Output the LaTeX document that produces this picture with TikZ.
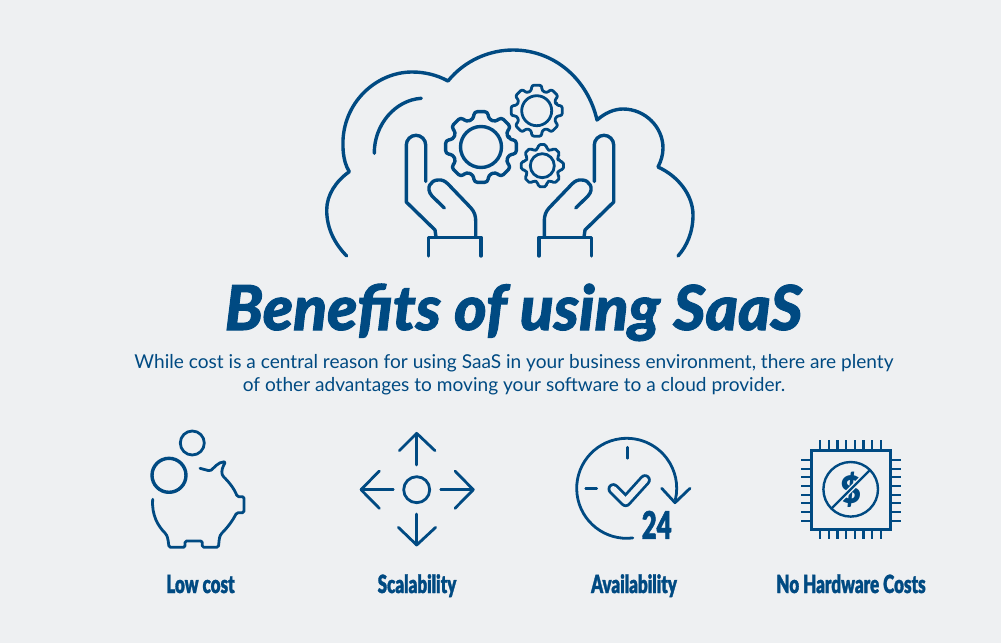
\documentclass[tikz,border=0pt]{standalone}
\usepackage{fontspec}
\setmainfont{Lato}
\newfontfamily\titlefont[FakeBold=1.6]{Lato Black Italic}
\newfontfamily\labelfont[FakeStretch=0.68,FakeBold=1.2]{Lato Black}
\newfontfamily\dollarfont[FakeStretch=0.95]{Lato Black}
\definecolor{saasblue}{HTML}{004A82}
\definecolor{saasbg}{HTML}{EEF0F2}
\tikzset{
  iconline/.style={draw=saasblue,line width=3.4pt,line cap=round,line join=round},
  thinline/.style={draw=saasblue,line width=2.8pt,line cap=round,line join=round},
  iconlabel/.style={text=saasblue,inner sep=0pt,anchor=base,font=\labelfont\fontsize{25}{27}\selectfont},
}
% one gear: x, y, inner radius, root radius, tip radius
\newcommand{\gearshape}[6][iconline]{
\begin{scope}[shift={(#2,#3)}]
\draw[#1] (#4,0) arc (0:360:#4);
\draw[#1,rounded corners=#6*0.09pt] (-15:#5)
  \foreach \a in {0,45,...,315} { -- (\a-15:#5) -- (\a-11:#6) -- (\a+11:#6) -- (\a+15:#5) } -- cycle;
\end{scope}
}
% left hand, the right one is its mirror image
\newcommand{\handshape}{
\draw[iconline] (425.7,181.5) -- (425.7,145) arc (0:-180:9.7) -- (406.3,202) -- (435,230) -- (436,237);
\draw[iconline] (444.3,208) -- (432,196) .. controls (425,188) and (431,180) .. (438,180) .. controls (442,179.5) and (445,181) .. (448,184)
  -- (471,208) .. controls (474.5,212) and (475.7,216) .. (475.7,221) -- (475.7,237);
\draw[iconline] (428.3,256) -- (428.3,237.3) -- (481,237.3) -- (481,256);
}

\begin{document}
\begin{tikzpicture}[x=1pt,y=1pt,yscale=-1]
\useasboundingbox (0,0) rectangle (1001,643);
\fill[saasbg] (0,0) rectangle (1001,643);

% cloud
\draw[iconline] (346.7,256) .. controls (336,245) and (326.7,230) .. (326.7,210)
  .. controls (326.7,195) and (336,181) .. (349.3,171.7)
  .. controls (342,160) and (343,145) .. (343,140)
  .. controls (345,100) and (378,72) .. (412,72)
  .. controls (425,72) and (437,75) .. (448,81)
  .. controls (465,60) and (490,50) .. (513,50)
  .. controls (555,50) and (588,80) .. (597,120)
  .. controls (605,113) and (614,109) .. (623,109)
  .. controls (645,109) and (663,127) .. (663,148)
  .. controls (663,155) and (661,161) .. (658,167)
  .. controls (678,176) and (693,195) .. (693,215)
  .. controls (693,232) and (687,246) .. (678,256);
\draw[iconline] (421.3,98.3) .. controls (395,100) and (374,125) .. (374.3,153.3);

% gears
\gearshape{481}{147}{20.5}{29}{36}
\gearshape[thinline]{536.7}{110.7}{15}{20.5}{26}
\gearshape[thinline]{542.3}{165.7}{12}{17}{21.5}

% hands
\handshape
\begin{scope}[xshift=1020pt,xscale=-1]
\handshape
\end{scope}

% texts
\node[text=saasblue,inner sep=0pt,anchor=base,font=\titlefont\fontsize{62}{70}\selectfont] (title) at (513.5,330) {Benefits of using SaaS};
\node[text=saasblue,inner sep=0pt,font=\fontsize{19.1}{23}\selectfont,align=center] (intro) at (514,375) {While cost is a central reason for using SaaS in your business environment, there are plenty\\of other advantages to moving your software to a cloud provider.};

% piggy bank
\draw[iconline,line width=2.8pt] (192.3,443) circle (12);
\draw[iconline] (169,475.3) circle (17);
\draw[iconline,line width=2.8pt,rounded corners=1.5pt] (152.7,499.3) .. controls (151.5,515) and (158,526) .. (166,534)
  .. controls (168,538) and (168.5,543) .. (169,547.3) -- (185,547.3) -- (185,541) -- (202.3,541) -- (202.3,547.3) -- (218.3,547.3)
  .. controls (219,543) and (219,538) .. (221,534) .. controls (228,527) and (233,520) .. (236.7,512.7)
  -- (244,512.7) -- (244,496.7) -- (237.3,496.7) .. controls (234,488) and (228,481) .. (222.7,476)
  .. controls (221,471) and (223,466) .. (225.7,461.7) .. controls (218,462) and (214,468) .. (210,471) -- (200,468.3);

% arrows
\draw[iconline,line width=2.8pt] (416.7,489.7) circle (13);
\draw[iconline,line width=2.8pt] (416.7,465) -- (416.7,433.3);
\draw[iconline,line width=2.8pt] (399.3,450.7) -- (416.7,433.3) -- (435,450.7);
\draw[iconline,line width=2.8pt] (416.7,514) -- (416.7,545);
\draw[iconline,line width=2.8pt] (398.3,527.3) -- (416.7,545) -- (435.7,527.3);
\draw[iconline,line width=2.8pt] (393.3,489.7) -- (361,489.7);
\draw[iconline,line width=2.8pt] (379.3,471) -- (361,489.7) -- (379.3,508.3);
\draw[iconline,line width=2.8pt] (440.7,489.7) -- (473.3,489.7);
\draw[iconline,line width=2.8pt] (455,471) -- (473.3,489.7) -- (455,508.3);

% clock
\draw[iconline,line width=2.8pt] (626.7,488.3) ++(83:50) arc (83:373:50);
\draw[iconline,line width=2.8pt] (627.7,447.3) -- (627.7,458.3);
\draw[iconline,line width=2.8pt] (585.7,488.7) -- (596.7,488.7);
\draw[iconline,line width=2.8pt,double=saasbg,double distance=6pt] (613.3,489) -- (625.7,501.3) -- (645,480);
\draw[iconline,line width=2.8pt] (661.7,488.3) -- (675,502.7) -- (690,488.3);
\node[iconlabel,anchor=base,font=\labelfont\fontsize{38}{38}\selectfont] (hours) at (656.7,538.8) {24};

% chip
\draw[saasblue,line width=3pt] (811,450) rectangle (890,529);
\foreach \i in {0,...,7} {
\draw[saasblue,line width=2.2pt] (820.3+\i*8.63,440) -- (820.3+\i*8.63,450);
\draw[saasblue,line width=2.2pt] (820.3+\i*8.63,529) -- (820.3+\i*8.63,539);
\draw[saasblue,line width=2.2pt] (801,460+\i*8.67) -- (811,460+\i*8.67);
\draw[saasblue,line width=2.2pt] (890,460+\i*8.67) -- (900.7,460+\i*8.67);
}
\draw[saasblue,line width=2.4pt] (850.7,489.3) circle (27.3);
\node[iconlabel,anchor=center,font=\dollarfont\fontsize{38}{38}\selectfont] (dollar) at (850.7,489.3) {\$};
\draw[saasbg,line width=5pt] (837,503) -- (864.5,475.5);
\draw[saasblue,line width=2.4pt] (831.4,508.6) -- (870,470);

% labels
\node[iconlabel] (lowcost) at (200.5,593) {Low cost};
\node[iconlabel] (scalability) at (417,593) {Scalability};
\node[iconlabel] (availability) at (634,593) {Availability};
\node[iconlabel] (hardware) at (851,593) {No Hardware Costs};
\end{tikzpicture}
\end{document}
